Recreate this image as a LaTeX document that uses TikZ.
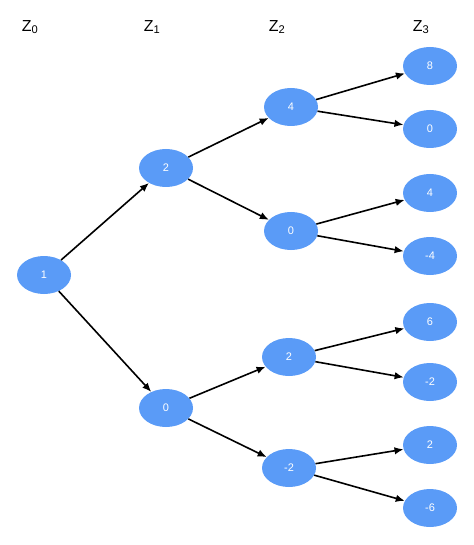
\documentclass[tikz,border=0pt]{standalone}
\usepackage{fontspec}
\setmainfont{Liberation Sans}
\usetikzlibrary{arrows.meta,shapes.geometric}
\definecolor{nodeblue}{RGB}{90,155,247}

\begin{document}
\begin{tikzpicture}[x=1bp, y=-1bp,
            state/.style={ellipse, fill=nodeblue, text=white, minimum width=54bp,
                          minimum height=38bp, inner sep=0pt, font=\fontsize{11}{13}\selectfont},
            level/.style={font=\fontsize{16}{18}\selectfont},
            edge/.style={draw, line width=1.6bp, -{Latex[length=9bp,width=7.5bp]}}]
        \useasboundingbox (0,0) rectangle (474,545);
        % stage labels
        \node[level] (z0) at (30,27) {Z\textsubscript{0}};
        \node[level] (z1) at (152,27) {Z\textsubscript{1}};
        \node[level] (z2) at (277,27) {Z\textsubscript{2}};
        \node[level] (z3) at (421,27) {Z\textsubscript{3}};
        % tree
        \node[state] (r) at (44,275) {1};
        \node[state] (a) at (166,168) {2};
        \node[state] (b) at (166,408) {0};
        \node[state] (aa) at (291,107) {4};
        \node[state] (ab) at (291,231) {0};
        \node[state] (ba) at (289,357) {2};
        \node[state] (bb) at (289,468) {-2};
        \node[state] (aaa) at (430,66) {8};
        \node[state] (aab) at (430,129) {0};
        \node[state] (aba) at (430,193) {4};
        \node[state] (abb) at (430,256) {-4};
        \node[state] (baa) at (430,322) {6};
        \node[state] (bab) at (430,382) {-2};
        \node[state] (bba) at (430,445) {2};
        \node[state] (bbb) at (430,508) {-6};
        \foreach \p/\c in {r/a, r/b, a/aa, a/ab, b/ba, b/bb,
                           aa/aaa, aa/aab, ab/aba, ab/abb,
                           ba/baa, ba/bab, bb/bba, bb/bbb}
            \draw[edge] (\p) -- (\c);
\end{tikzpicture}
\end{document}
